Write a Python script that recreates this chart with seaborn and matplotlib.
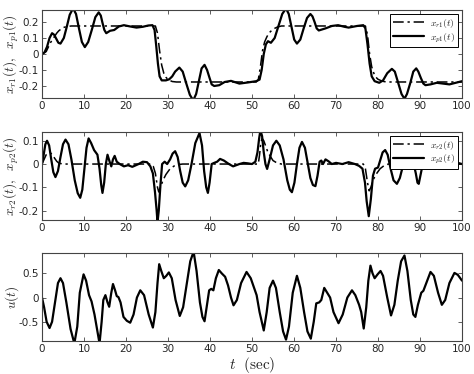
import pandas as pd
import matplotlib
matplotlib.use('Agg')
import matplotlib.pyplot as plt
import seaborn as sns

# ------------------------------------------------------------
# data (time in sec, value)
# ------------------------------------------------------------
xr1_pts = [(0, 0.0), (1, 0.015), (2, 0.07), (3, 0.11), (3.5, 0.13), (4, 0.145), (5, 0.165),
           (6, 0.172), (7, 0.175), (27, 0.175), (27.5, 0.13), (28, 0.02), (28.5, -0.07),
           (29, -0.12), (29.5, -0.145), (30, -0.16), (31, -0.172), (32, -0.175),
           (51, -0.175), (51.5, -0.16), (52, -0.08), (52.5, 0.02), (53, 0.075), (53.5, 0.105),
           (54, 0.13), (55, 0.155), (56, 0.168), (57, 0.175), (77, 0.175), (77.5, 0.12),
           (78, 0.0), (78.5, -0.08), (79, -0.12), (79.5, -0.145), (80, -0.158), (81, -0.17),
           (82, -0.175), (100, -0.175)]

xp1_pts = [(0, 0.0), (0.6, 0.01), (1.2, 0.045), (1.8, 0.1), (2.4, 0.13), (2.9, 0.12), (3.4, 0.095),
           (3.9, 0.07), (4.4, 0.065), (5.2, 0.1), (5.9, 0.17), (6.6, 0.245), (7.4, 0.285),
           (8.1, 0.25), (8.8, 0.16), (9.5, 0.075), (10.2, 0.043), (11.0, 0.075), (11.85, 0.15),
           (12.7, 0.23), (13.5, 0.26), (14.0, 0.24), (14.4, 0.195), (14.85, 0.15), (15.3, 0.13),
           (16.2, 0.145), (17.2, 0.15), (18.3, 0.172), (19.5, 0.18), (21.0, 0.172), (22.5, 0.165),
           (24.0, 0.17), (25.3, 0.178), (26.3, 0.18), (26.8, 0.15), (27.2, 0.05), (27.6, -0.06),
           (28.0, -0.14), (28.5, -0.165), (29.5, -0.165), (30.3, -0.158), (31.0, -0.14),
           (31.7, -0.11), (32.7, -0.085), (33.5, -0.11), (34.3, -0.18), (35.2, -0.255),
           (36.0, -0.29), (36.7, -0.25), (37.35, -0.17), (38.0, -0.09), (38.7, -0.068),
           (39.3, -0.1), (39.9, -0.15), (40.4, -0.19), (41.0, -0.2), (42.2, -0.195),
           (43.5, -0.175), (45.0, -0.168), (47.0, -0.185), (49.0, -0.178), (51.0, -0.17),
           (51.8, -0.16), (52.3, -0.1), (52.8, 0.0), (53.3, 0.06), (53.8, 0.08), (54.5, 0.07),
           (55.4, 0.1), (56.3, 0.175), (57.2, 0.25), (58.1, 0.285), (58.75, 0.25), (59.4, 0.17),
           (60.05, 0.09), (60.7, 0.065), (61.5, 0.09), (62.3, 0.16), (63.1, 0.225), (63.9, 0.25),
           (64.4, 0.235), (64.9, 0.2), (65.4, 0.16), (65.9, 0.147), (67.5, 0.16), (69.0, 0.175),
           (70.5, 0.18), (72.0, 0.17), (73.0, 0.165), (75.0, 0.175), (76.5, 0.18), (77.0, 0.16),
           (77.5, 0.06), (78.0, -0.06), (78.5, -0.14), (79.2, -0.17), (80.3, -0.18),
           (81.2, -0.165), (82.2, -0.12), (83.3, -0.093), (84.0, -0.11), (84.8, -0.18),
           (85.6, -0.25), (86.3, -0.28), (86.9, -0.25), (87.7, -0.18), (88.4, -0.11),
           (89.1, -0.09), (89.6, -0.11), (90.2, -0.15), (90.8, -0.185), (91.3, -0.195),
           (92.5, -0.19), (94.0, -0.18), (95.5, -0.185), (97.0, -0.19), (98.5, -0.18),
           (100, -0.17)]

xr2_pts = [(0, 0.0), (0.5, 0.02), (1, 0.04), (1.5, 0.047), (2, 0.048), (2.5, 0.04), (3, 0.025),
           (3.5, 0.012), (4, 0.004), (5, 0.0), (26, 0.0), (26.5, -0.01), (27, -0.04),
           (27.5, -0.1), (27.8, -0.12), (28.2, -0.1), (28.8, -0.07), (29.5, -0.045),
           (30.5, -0.02), (31.5, -0.008), (32.5, -0.002), (33.5, 0.0), (51.5, 0.0),
           (51.8, 0.04), (52.1, 0.09), (52.4, 0.11), (52.8, 0.1), (53.2, 0.08), (53.7, 0.055),
           (54.3, 0.035), (55, 0.015), (56, 0.004), (57, 0.0), (76.5, 0.0), (77, -0.02),
           (77.5, -0.08), (77.9, -0.115), (78.3, -0.1), (78.8, -0.07), (79.5, -0.045),
           (80.5, -0.02), (81.5, -0.006), (82.5, 0.0), (100, 0.0)]

xp2_pts = [(0, 0.0), (0.4, 0.04), (0.8, 0.085), (1.2, 0.1), (1.7, 0.08), (2.2, 0.02), (2.7, -0.035),
           (3.2, -0.056), (3.8, -0.03), (4.4, 0.03), (5.0, 0.085), (5.6, 0.105), (6.3, 0.085),
           (7.0, 0.02), (7.8, -0.07), (8.5, -0.125), (9.1, -0.145), (9.6, -0.11), (10.1, -0.02),
           (10.6, 0.07), (11.1, 0.11), (11.7, 0.09), (12.4, 0.06), (13.2, 0.04), (13.7, -0.02),
           (14.1, -0.09), (14.4, -0.124), (14.8, -0.08), (15.2, 0.0), (15.6, 0.04), (16.1, 0.01),
           (16.5, -0.01), (16.9, 0.02), (17.3, 0.035), (17.8, 0.01), (18.5, 0.0), (19.5, -0.01),
           (20.5, -0.005), (21.5, -0.012), (23, 0.0), (24, 0.01), (25, 0.008), (25.8, -0.01),
           (26.4, -0.04), (26.9, -0.12), (27.3, -0.2), (27.5, -0.25), (27.8, -0.2), (28.2, -0.09),
           (28.6, 0.0), (29.2, 0.01), (29.8, 0.0), (30.5, 0.02), (31.1, 0.045), (31.7, 0.055),
           (32.3, 0.03), (32.9, -0.03), (33.5, -0.08), (34.1, -0.096), (34.8, -0.07), (35.6, 0.0),
           (36.5, 0.09), (37.5, 0.133), (38.1, 0.08), (38.6, -0.03), (39.1, -0.1), (39.5, -0.124),
           (39.9, -0.08), (40.4, 0.0), (41.0, 0.005), (41.7, 0.01), (42.4, 0.022), (43.3, 0.015),
           (44.5, 0.0), (45.5, -0.01), (47, 0.0), (48, 0.005), (49, 0.003), (50, 0.0),
           (50.8, 0.01), (51.3, 0.05), (51.7, 0.11), (52.0, 0.145), (52.4, 0.12), (52.8, 0.05),
           (53.2, 0.0), (53.6, -0.021), (54.2, 0.02), (55.0, 0.08), (55.8, 0.1), (56.6, 0.08),
           (57.5, 0.02), (58.4, -0.07), (59.0, -0.11), (59.5, -0.121), (60.1, -0.08), (60.7, 0.0),
           (61.3, 0.07), (61.9, 0.095), (62.6, 0.07), (63.3, 0.0), (63.9, -0.06), (64.5, -0.09),
           (65.1, -0.095), (65.6, -0.05), (66.1, 0.01), (66.5, 0.015), (66.9, 0.0), (67.5, 0.02),
           (68.2, 0.012), (69, 0.0), (70, 0.005), (71.5, 0.0), (73, 0.008), (74.5, 0.0),
           (75.5, -0.008), (76.3, -0.02), (76.9, -0.08), (77.3, -0.16), (77.8, -0.224),
           (78.3, -0.15), (78.8, -0.05), (79.3, -0.02), (80.0, -0.015), (80.6, 0.02), (81.1, 0.05),
           (81.7, 0.06), (82.3, 0.04), (83.0, -0.02), (83.7, -0.07), (84.5, -0.085), (85.2, -0.06),
           (85.9, -0.01), (86.5, 0.002), (87.5, 0.005), (88.5, 0.0), (89.0, -0.04), (89.4, -0.08),
           (89.7, -0.085), (90.1, -0.05), (90.6, -0.005), (91.2, 0.005), (92.2, 0.008),
           (93.5, 0.0), (95, -0.012), (96.5, -0.005), (98, 0.008), (99, 0.005), (100, 0.0)]

u_pts = [(0, 0.0), (0.5, -0.2), (1.1, -0.5), (1.8, -0.63), (2.4, -0.5), (3.1, -0.1), (3.8, 0.3),
         (4.4, 0.4), (5.0, 0.3), (5.8, -0.1), (6.8, -0.65), (7.7, -0.95), (8.4, -0.6), (9.0, 0.1),
         (9.9, 0.48), (10.5, 0.35), (11.2, 0.05), (11.8, -0.08), (12.5, -0.35), (13.2, -0.7),
         (13.7, -0.95), (14.2, -0.5), (14.6, -0.05), (15.1, 0.05), (15.6, -0.1), (16.0, -0.19),
         (16.5, 0.1), (16.9, 0.28), (17.4, 0.15), (17.8, 0.03), (18.2, 0.01), (18.7, -0.1),
         (19.4, -0.4), (20.2, -0.48), (21.0, -0.52), (21.8, -0.35), (22.6, 0.0), (23.4, 0.15),
         (24.3, 0.05), (25.4, -0.35), (26.4, -0.62), (27.0, -0.3), (27.5, 0.3), (27.9, 0.69),
         (28.4, 0.55), (29.0, 0.4), (29.6, 0.45), (30.2, 0.52), (30.9, 0.4), (31.8, -0.05),
         (32.8, -0.38), (33.6, -0.2), (34.5, 0.3), (35.3, 0.75), (36.1, 0.95), (36.8, 0.55),
         (37.6, -0.1), (38.2, -0.4), (38.7, -0.49), (39.2, -0.2), (39.8, 0.15), (40.3, 0.18),
         (40.8, 0.15), (41.4, 0.4), (42.1, 0.57), (42.8, 0.5), (43.6, 0.43), (44.3, 0.25),
         (45.0, 0.0), (45.6, -0.16), (46.4, -0.05), (47.4, 0.3), (48.7, 0.53), (49.7, 0.4),
         (50.5, 0.2), (51.1, 0.05), (51.8, -0.3), (52.8, -0.68), (53.5, -0.3), (54.2, 0.2),
         (55.0, 0.35), (55.7, 0.2), (56.6, -0.3), (57.4, -0.7), (58.1, -0.87), (58.8, -0.6),
         (59.7, 0.1), (60.7, 0.45), (61.5, 0.2), (62.4, -0.3), (63.2, -0.7), (64.0, -0.85),
         (64.7, -0.5), (65.3, -0.12), (66.0, -0.1), (66.5, -0.05), (67.2, 0.2), (67.9, 0.1),
         (68.6, 0.0), (69.4, -0.3), (70.6, -0.53), (71.6, -0.35), (72.7, 0.0), (73.8, 0.15),
         (74.6, 0.05), (75.5, -0.15), (76.0, -0.3), (76.6, -0.64), (77.2, -0.2), (77.7, 0.35),
         (78.2, 0.66), (78.7, 0.5), (79.2, 0.4), (79.9, 0.48), (80.6, 0.55), (81.2, 0.45),
         (82.2, 0.0), (83.1, -0.37), (83.9, -0.15), (84.7, 0.35), (85.5, 0.75), (86.3, 0.87),
         (87.0, 0.55), (87.8, -0.05), (88.4, -0.35), (88.9, -0.4), (89.5, -0.15), (90.3, 0.1),
         (90.8, 0.14), (91.5, 0.3), (92.5, 0.53), (93.3, 0.45), (94.3, 0.1), (95.2, -0.15),
         (96.0, -0.05), (97.0, 0.3), (98.2, 0.51), (99.0, 0.47), (100, 0.35)]

x_ticks = [0, 10, 20, 30, 40, 50, 60, 70, 80, 90, 100]


def to_df(pts):
    return pd.DataFrame(pts, columns=['t', 'v'])


# ------------------------------------------------------------
# style
# ------------------------------------------------------------
sns.set_style('ticks')
plt.rcParams['font.family'] = ['DejaVu Sans']
plt.rcParams['mathtext.fontset'] = 'cm'
plt.rcParams['xtick.direction'] = 'in'
plt.rcParams['ytick.direction'] = 'in'
plt.rcParams['xtick.top'] = True
plt.rcParams['ytick.right'] = True

fig = plt.figure(figsize=(4.74, 3.74), dpi=100)
left, width, height = 0.0886, 0.8861, 0.2353
ax1 = fig.add_axes([left, 0.738, width, height])
ax2 = fig.add_axes([left, 0.412, width, height])
ax3 = fig.add_axes([left, 0.088, width, height])

dashdot = (0, (7, 2.5, 1.5, 2.5))

# panel 1
sns.lineplot(data=to_df(xr1_pts), x='t', y='v', ax=ax1, color='black', lw=1.1,
             linestyle=dashdot, label=r'$x_{r1}(t)$')
sns.lineplot(data=to_df(xp1_pts), x='t', y='v', ax=ax1, color='black', lw=1.6,
             label=r'$x_{p1}(t)$')
ax1.set_ylim(-0.275, 0.275)
ax1.set_yticks([-0.2, -0.1, 0, 0.1, 0.2])
ax1.set_yticklabels(['-0.2', '-0.1', '0', '0.1', '0.2'])
ax1.set_ylabel(r'$x_{r1}(t),\ \ x_{p1}(t)$', fontsize=9.5)

# panel 2
sns.lineplot(data=to_df(xr2_pts), x='t', y='v', ax=ax2, color='black', lw=1.1,
             linestyle=dashdot, label=r'$x_{r2}(t)$')
sns.lineplot(data=to_df(xp2_pts), x='t', y='v', ax=ax2, color='black', lw=1.6,
             label=r'$x_{p2}(t)$')
ax2.set_ylim(-0.24, 0.138)
ax2.set_yticks([-0.2, -0.1, 0, 0.1])
ax2.set_yticklabels(['-0.2', '-0.1', '0', '0.1'])
ax2.set_ylabel(r'$x_{r2}(t),\ \ x_{p2}(t)$', fontsize=9.5)

# panel 3
sns.lineplot(data=to_df(u_pts), x='t', y='v', ax=ax3, color='black', lw=1.6)
ax3.set_ylim(-0.9, 0.92)
ax3.set_yticks([-0.5, 0, 0.5])
ax3.set_yticklabels(['-0.5', '0', '0.5'])
ax3.set_ylabel(r'$u(t)$', fontsize=9.5)
ax3.set_xlabel(r'$t\ \ \mathrm{(sec)}$', fontsize=11, labelpad=1)

for ax in (ax1, ax2, ax3):
    ax.set_xlim(0, 100)
    ax.set_xticks(x_ticks)
    ax.yaxis.set_label_coords(-0.05, 0.5)
    ax.tick_params(labelsize=7.5, length=3, width=0.6, pad=2, color='#444444')
    for s in ax.spines.values():
        s.set_linewidth(0.8)
        s.set_color('#444444')
    if ax is not ax3:
        ax.set_xlabel('')
        leg = ax.legend(loc='upper right', fontsize=7, frameon=True, fancybox=False,
                        handlelength=3.2, borderpad=0.3, labelspacing=0.15,
                        borderaxespad=0.4, handletextpad=0.6)
        leg.get_frame().set_edgecolor('black')
        leg.get_frame().set_linewidth(0.7)
        leg.get_frame().set_alpha(1)

fig.savefig('out.png', dpi=100)
